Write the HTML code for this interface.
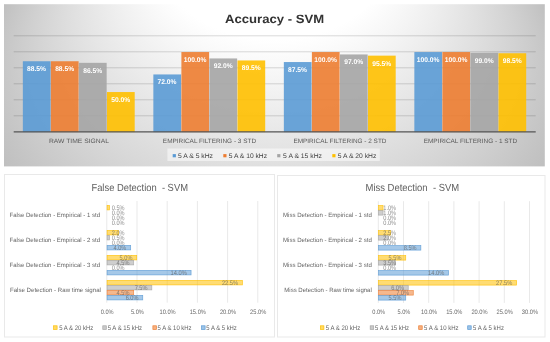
<!DOCTYPE html>
<html lang="en"><head><meta charset="utf-8"><title>SVM charts</title>
<style>html,body{margin:0;padding:0;background:#fff}svg{display:block}text{text-rendering:geometricPrecision;font-family:"Liberation Sans", Arial, sans-serif;}</style></head><body>
<svg width="550" height="342" viewBox="0 0 550 342">
<defs>
<radialGradient id="bg" gradientUnits="objectBoundingBox" cx="0" cy="0" r="1" fx="0" fy="-0.995" gradientTransform="translate(0.5,0.5) scale(0.5417,1.3)"><stop offset="0" stop-color="#ffffff"/><stop offset="0.39" stop-color="#ffffff"/><stop offset="1" stop-color="#bfbfbf"/></radialGradient>
</defs>
<rect x="0" y="0" width="550" height="342" fill="#ffffff"/>
<rect x="4" y="4.2" width="540.8" height="162.20000000000002" fill="url(#bg)"/>
<line x1="13.7" x2="535.7" y1="115.80" y2="115.80" stroke="#000000" stroke-opacity="0.15" stroke-width="1"/>
<line x1="13.7" x2="535.7" y1="99.80" y2="99.80" stroke="#000000" stroke-opacity="0.15" stroke-width="1"/>
<line x1="13.7" x2="535.7" y1="83.80" y2="83.80" stroke="#000000" stroke-opacity="0.15" stroke-width="1"/>
<line x1="13.7" x2="535.7" y1="67.80" y2="67.80" stroke="#000000" stroke-opacity="0.15" stroke-width="1"/>
<line x1="13.7" x2="535.7" y1="51.80" y2="51.80" stroke="#000000" stroke-opacity="0.15" stroke-width="1"/>
<line x1="13.7" x2="535.7" y1="35.80" y2="35.80" stroke="#000000" stroke-opacity="0.15" stroke-width="1"/>
<rect x="22.85" y="61.25" width="27.70" height="70.85" fill="#5b9bd5" fill-opacity="0.9"/>
<rect x="50.90" y="61.25" width="27.70" height="70.85" fill="#ed7d31" fill-opacity="0.9"/>
<rect x="78.95" y="62.85" width="27.70" height="69.25" fill="#a5a5a5" fill-opacity="0.9"/>
<rect x="107.00" y="92.05" width="27.70" height="40.05" fill="#ffc000" fill-opacity="0.9"/>
<text x="27.07" y="71.25" font-size="6.8" fill="#ffffff" font-weight="bold" textLength="19.00" lengthAdjust="spacingAndGlyphs" xml:space="preserve">88.5%</text>
<text x="55.13" y="71.25" font-size="6.8" fill="#ffffff" font-weight="bold" textLength="19.00" lengthAdjust="spacingAndGlyphs" xml:space="preserve">88.5%</text>
<text x="83.18" y="72.85" font-size="6.8" fill="#ffffff" font-weight="bold" textLength="19.00" lengthAdjust="spacingAndGlyphs" xml:space="preserve">86.5%</text>
<text x="111.23" y="102.05" font-size="6.8" fill="#ffffff" font-weight="bold" textLength="19.00" lengthAdjust="spacingAndGlyphs" xml:space="preserve">50.0%</text>
<text x="48.90" y="143.45" font-size="6.3" fill="#595959" textLength="60.10" lengthAdjust="spacingAndGlyphs" xml:space="preserve">RAW TIME SIGNAL</text>
<rect x="153.35" y="74.45" width="27.70" height="57.65" fill="#5b9bd5" fill-opacity="0.9"/>
<rect x="181.40" y="52.05" width="27.70" height="80.05" fill="#ed7d31" fill-opacity="0.9"/>
<rect x="209.45" y="58.45" width="27.70" height="73.65" fill="#a5a5a5" fill-opacity="0.9"/>
<rect x="237.50" y="60.45" width="27.70" height="71.65" fill="#ffc000" fill-opacity="0.9"/>
<text x="157.57" y="84.45" font-size="6.8" fill="#ffffff" font-weight="bold" textLength="19.00" lengthAdjust="spacingAndGlyphs" xml:space="preserve">72.0%</text>
<text x="183.78" y="62.05" font-size="6.8" fill="#ffffff" font-weight="bold" textLength="22.70" lengthAdjust="spacingAndGlyphs" xml:space="preserve">100.0%</text>
<text x="213.67" y="68.45" font-size="6.8" fill="#ffffff" font-weight="bold" textLength="19.00" lengthAdjust="spacingAndGlyphs" xml:space="preserve">92.0%</text>
<text x="241.72" y="70.45" font-size="6.8" fill="#ffffff" font-weight="bold" textLength="19.00" lengthAdjust="spacingAndGlyphs" xml:space="preserve">89.5%</text>
<text x="162.85" y="143.45" font-size="6.3" fill="#595959" textLength="93.20" lengthAdjust="spacingAndGlyphs" xml:space="preserve">EMPIRICAL FILTERING - 3 STD</text>
<rect x="283.85" y="62.05" width="27.70" height="70.05" fill="#5b9bd5" fill-opacity="0.9"/>
<rect x="311.90" y="52.05" width="27.70" height="80.05" fill="#ed7d31" fill-opacity="0.9"/>
<rect x="339.95" y="54.45" width="27.70" height="77.65" fill="#a5a5a5" fill-opacity="0.9"/>
<rect x="368.00" y="55.65" width="27.70" height="76.45" fill="#ffc000" fill-opacity="0.9"/>
<text x="288.07" y="72.05" font-size="6.8" fill="#ffffff" font-weight="bold" textLength="19.00" lengthAdjust="spacingAndGlyphs" xml:space="preserve">87.5%</text>
<text x="314.27" y="62.05" font-size="6.8" fill="#ffffff" font-weight="bold" textLength="22.70" lengthAdjust="spacingAndGlyphs" xml:space="preserve">100.0%</text>
<text x="344.17" y="64.45" font-size="6.8" fill="#ffffff" font-weight="bold" textLength="19.00" lengthAdjust="spacingAndGlyphs" xml:space="preserve">97.0%</text>
<text x="372.22" y="65.65" font-size="6.8" fill="#ffffff" font-weight="bold" textLength="19.00" lengthAdjust="spacingAndGlyphs" xml:space="preserve">95.5%</text>
<text x="293.45" y="143.45" font-size="6.3" fill="#595959" textLength="93.00" lengthAdjust="spacingAndGlyphs" xml:space="preserve">EMPIRICAL FILTERING - 2 STD</text>
<rect x="414.35" y="52.05" width="27.70" height="80.05" fill="#5b9bd5" fill-opacity="0.9"/>
<rect x="442.40" y="52.05" width="27.70" height="80.05" fill="#ed7d31" fill-opacity="0.9"/>
<rect x="470.45" y="52.85" width="27.70" height="79.25" fill="#a5a5a5" fill-opacity="0.9"/>
<rect x="498.50" y="53.25" width="27.70" height="78.85" fill="#ffc000" fill-opacity="0.9"/>
<text x="416.72" y="62.05" font-size="6.8" fill="#ffffff" font-weight="bold" textLength="22.70" lengthAdjust="spacingAndGlyphs" xml:space="preserve">100.0%</text>
<text x="444.77" y="62.05" font-size="6.8" fill="#ffffff" font-weight="bold" textLength="22.70" lengthAdjust="spacingAndGlyphs" xml:space="preserve">100.0%</text>
<text x="474.67" y="62.85" font-size="6.8" fill="#ffffff" font-weight="bold" textLength="19.00" lengthAdjust="spacingAndGlyphs" xml:space="preserve">99.0%</text>
<text x="502.72" y="63.25" font-size="6.8" fill="#ffffff" font-weight="bold" textLength="19.00" lengthAdjust="spacingAndGlyphs" xml:space="preserve">98.5%</text>
<text x="423.70" y="143.45" font-size="6.3" fill="#595959" textLength="93.50" lengthAdjust="spacingAndGlyphs" xml:space="preserve">EMPIRICAL FILTERING - 1 STD</text>
<line x1="13.7" x2="535.7" y1="131.80" y2="131.80" stroke="#555555" stroke-width="1.3"/>
<text x="225.10" y="23.30" font-size="12" fill="#333333" font-weight="bold" textLength="99.00" lengthAdjust="spacingAndGlyphs" xml:space="preserve">Accuracy - SVM</text>
<rect x="167.4" y="148.5" width="212.4" height="12.5" fill="#ffffff" fill-opacity="0.5"/>
<rect x="172.7" y="154.1" width="3.2" height="3.2" fill="#5b9bd5"/>
<text x="177.90" y="158.00" font-size="6.7" fill="#404040" textLength="35.10" lengthAdjust="spacingAndGlyphs" xml:space="preserve">5 A &amp; 5 kHz</text>
<rect x="223.3" y="154.1" width="3.2" height="3.2" fill="#ed7d31"/>
<text x="228.70" y="158.00" font-size="6.7" fill="#404040" textLength="38.30" lengthAdjust="spacingAndGlyphs" xml:space="preserve">5 A &amp; 10 kHz</text>
<rect x="277.2" y="154.1" width="3.2" height="3.2" fill="#a5a5a5"/>
<text x="283.10" y="158.00" font-size="6.7" fill="#404040" textLength="38.90" lengthAdjust="spacingAndGlyphs" xml:space="preserve">5 A &amp; 15 kHz</text>
<rect x="332.3" y="154.1" width="3.2" height="3.2" fill="#ffc000"/>
<text x="337.70" y="158.00" font-size="6.7" fill="#404040" textLength="38.60" lengthAdjust="spacingAndGlyphs" xml:space="preserve">5 A &amp; 20 kHz</text>
<rect x="4.5" y="174.5" width="270.0" height="162.5" fill="#ffffff" stroke="#e9e9e9" stroke-width="1"/>
<text x="91.40" y="190.60" font-size="10.3" fill="#606060" textLength="96.60" lengthAdjust="spacingAndGlyphs" xml:space="preserve">False Detection  - SVM</text>
<line x1="106.80" x2="106.80" y1="201.00" y2="302.70" stroke="#e9e9e9" stroke-width="1"/>
<text x="100.75" y="313.80" font-size="6.4" fill="#6a6a6a" textLength="12.90" lengthAdjust="spacingAndGlyphs" xml:space="preserve">0.0%</text>
<line x1="137.00" x2="137.00" y1="201.00" y2="302.70" stroke="#e9e9e9" stroke-width="1"/>
<text x="130.95" y="313.80" font-size="6.4" fill="#6a6a6a" textLength="12.90" lengthAdjust="spacingAndGlyphs" xml:space="preserve">5.0%</text>
<line x1="167.20" x2="167.20" y1="201.00" y2="302.70" stroke="#e9e9e9" stroke-width="1"/>
<text x="159.50" y="313.80" font-size="6.4" fill="#6a6a6a" textLength="16.20" lengthAdjust="spacingAndGlyphs" xml:space="preserve">10.0%</text>
<line x1="197.40" x2="197.40" y1="201.00" y2="302.70" stroke="#e9e9e9" stroke-width="1"/>
<text x="189.70" y="313.80" font-size="6.4" fill="#6a6a6a" textLength="16.20" lengthAdjust="spacingAndGlyphs" xml:space="preserve">15.0%</text>
<line x1="227.60" x2="227.60" y1="201.00" y2="302.70" stroke="#e9e9e9" stroke-width="1"/>
<text x="219.90" y="313.80" font-size="6.4" fill="#6a6a6a" textLength="16.20" lengthAdjust="spacingAndGlyphs" xml:space="preserve">20.0%</text>
<line x1="257.80" x2="257.80" y1="201.00" y2="302.70" stroke="#e9e9e9" stroke-width="1"/>
<text x="250.10" y="313.80" font-size="6.4" fill="#6a6a6a" textLength="16.20" lengthAdjust="spacingAndGlyphs" xml:space="preserve">25.0%</text>
<text x="9.60" y="217.20" font-size="6.1" fill="#666666" textLength="90.40" lengthAdjust="spacingAndGlyphs" xml:space="preserve">False Detection - Empirical - 1 std</text>
<rect x="107.10" y="205.35" width="2.42" height="4.55" fill="#ffc000" fill-opacity="0.55" stroke="#ffc000" stroke-opacity="0.85" stroke-width="0.7"/>
<text x="111.80" y="210.00" font-size="6.5" fill="#595959" fill-opacity="0.7" textLength="12.80" lengthAdjust="spacingAndGlyphs" xml:space="preserve">0.5%</text>
<text x="111.80" y="215.00" font-size="6.5" fill="#595959" fill-opacity="0.7" textLength="12.80" lengthAdjust="spacingAndGlyphs" xml:space="preserve">0.0%</text>
<text x="111.80" y="220.00" font-size="6.5" fill="#595959" fill-opacity="0.7" textLength="12.80" lengthAdjust="spacingAndGlyphs" xml:space="preserve">0.0%</text>
<text x="111.80" y="225.00" font-size="6.5" fill="#595959" fill-opacity="0.7" textLength="12.80" lengthAdjust="spacingAndGlyphs" xml:space="preserve">0.0%</text>
<text x="9.60" y="242.20" font-size="6.1" fill="#666666" textLength="90.40" lengthAdjust="spacingAndGlyphs" xml:space="preserve">False Detection - Empirical - 2 std</text>
<rect x="107.10" y="230.35" width="11.48" height="4.55" fill="#ffc000" fill-opacity="0.55" stroke="#ffc000" stroke-opacity="0.85" stroke-width="0.7"/>
<rect x="107.10" y="235.35" width="2.42" height="4.55" fill="#a5a5a5" fill-opacity="0.55" stroke="#a5a5a5" stroke-opacity="0.85" stroke-width="0.7"/>
<rect x="107.10" y="245.35" width="23.56" height="4.55" fill="#5b9bd5" fill-opacity="0.55" stroke="#5b9bd5" stroke-opacity="0.85" stroke-width="0.7"/>
<text x="111.80" y="235.00" font-size="6.5" fill="#595959" fill-opacity="0.7" textLength="12.80" lengthAdjust="spacingAndGlyphs" xml:space="preserve">2.0%</text>
<text x="111.80" y="240.00" font-size="6.5" fill="#595959" fill-opacity="0.7" textLength="12.80" lengthAdjust="spacingAndGlyphs" xml:space="preserve">0.5%</text>
<text x="111.80" y="245.00" font-size="6.5" fill="#595959" fill-opacity="0.7" textLength="12.80" lengthAdjust="spacingAndGlyphs" xml:space="preserve">0.0%</text>
<text x="113.56" y="250.00" font-size="6.5" fill="#595959" fill-opacity="0.7" textLength="12.80" lengthAdjust="spacingAndGlyphs" xml:space="preserve">4.0%</text>
<text x="9.60" y="267.20" font-size="6.1" fill="#666666" textLength="90.40" lengthAdjust="spacingAndGlyphs" xml:space="preserve">False Detection - Empirical - 3 std</text>
<rect x="107.10" y="255.35" width="29.60" height="4.55" fill="#ffc000" fill-opacity="0.55" stroke="#ffc000" stroke-opacity="0.85" stroke-width="0.7"/>
<rect x="107.10" y="260.35" width="26.58" height="4.55" fill="#a5a5a5" fill-opacity="0.55" stroke="#a5a5a5" stroke-opacity="0.85" stroke-width="0.7"/>
<rect x="107.10" y="270.35" width="83.96" height="4.55" fill="#5b9bd5" fill-opacity="0.55" stroke="#5b9bd5" stroke-opacity="0.85" stroke-width="0.7"/>
<text x="119.60" y="260.00" font-size="6.5" fill="#595959" fill-opacity="0.7" textLength="12.80" lengthAdjust="spacingAndGlyphs" xml:space="preserve">5.0%</text>
<text x="116.58" y="265.00" font-size="6.5" fill="#595959" fill-opacity="0.7" textLength="12.80" lengthAdjust="spacingAndGlyphs" xml:space="preserve">4.5%</text>
<text x="111.80" y="270.00" font-size="6.5" fill="#595959" fill-opacity="0.7" textLength="12.80" lengthAdjust="spacingAndGlyphs" xml:space="preserve">0.0%</text>
<text x="170.56" y="275.00" font-size="6.5" fill="#595959" fill-opacity="0.7" textLength="16.20" lengthAdjust="spacingAndGlyphs" xml:space="preserve">14.0%</text>
<text x="10.00" y="292.20" font-size="6.1" fill="#666666" textLength="90.90" lengthAdjust="spacingAndGlyphs" xml:space="preserve">False Detection - Raw time signal</text>
<rect x="107.10" y="280.35" width="135.30" height="4.55" fill="#ffc000" fill-opacity="0.55" stroke="#ffc000" stroke-opacity="0.85" stroke-width="0.7"/>
<rect x="107.10" y="285.35" width="44.70" height="4.55" fill="#a5a5a5" fill-opacity="0.55" stroke="#a5a5a5" stroke-opacity="0.85" stroke-width="0.7"/>
<rect x="107.10" y="290.35" width="26.58" height="4.55" fill="#ed7d31" fill-opacity="0.55" stroke="#ed7d31" stroke-opacity="0.85" stroke-width="0.7"/>
<rect x="107.10" y="295.35" width="35.64" height="4.55" fill="#5b9bd5" fill-opacity="0.55" stroke="#5b9bd5" stroke-opacity="0.85" stroke-width="0.7"/>
<text x="221.90" y="285.00" font-size="6.5" fill="#595959" fill-opacity="0.7" textLength="16.20" lengthAdjust="spacingAndGlyphs" xml:space="preserve">22.5%</text>
<text x="134.70" y="290.00" font-size="6.5" fill="#595959" fill-opacity="0.7" textLength="12.80" lengthAdjust="spacingAndGlyphs" xml:space="preserve">7.5%</text>
<text x="116.58" y="295.00" font-size="6.5" fill="#595959" fill-opacity="0.7" textLength="12.80" lengthAdjust="spacingAndGlyphs" xml:space="preserve">4.5%</text>
<text x="125.64" y="300.00" font-size="6.5" fill="#595959" fill-opacity="0.7" textLength="12.80" lengthAdjust="spacingAndGlyphs" xml:space="preserve">6.0%</text>
<rect x="53.6" y="325.8" width="3.5" height="3.6" fill="#ffc000" fill-opacity="0.6" stroke="#ffc000" stroke-width="0.7"/>
<text x="59.20" y="329.60" font-size="6.6" fill="#646464" textLength="34.10" lengthAdjust="spacingAndGlyphs" xml:space="preserve">5 A &amp; 20 kHz</text>
<rect x="102.80000000000001" y="325.8" width="3.5" height="3.6" fill="#a5a5a5" fill-opacity="0.6" stroke="#a5a5a5" stroke-width="0.7"/>
<text x="107.70" y="329.60" font-size="6.6" fill="#646464" textLength="34.30" lengthAdjust="spacingAndGlyphs" xml:space="preserve">5 A &amp; 15 kHz</text>
<rect x="152.9" y="325.8" width="3.5" height="3.6" fill="#ed7d31" fill-opacity="0.6" stroke="#ed7d31" stroke-width="0.7"/>
<text x="157.60" y="329.60" font-size="6.6" fill="#646464" textLength="34.00" lengthAdjust="spacingAndGlyphs" xml:space="preserve">5 A &amp; 10 kHz</text>
<rect x="201.6" y="325.8" width="3.5" height="3.6" fill="#5b9bd5" fill-opacity="0.6" stroke="#5b9bd5" stroke-width="0.7"/>
<text x="206.30" y="329.60" font-size="6.6" fill="#646464" textLength="30.50" lengthAdjust="spacingAndGlyphs" xml:space="preserve">5 A &amp; 5 kHz</text>
<rect x="277.5" y="175.5" width="267.5" height="161.5" fill="#ffffff" stroke="#e9e9e9" stroke-width="1"/>
<text x="365.50" y="191.20" font-size="10.3" fill="#606060" textLength="93.70" lengthAdjust="spacingAndGlyphs" xml:space="preserve">Miss Detection  - SVM</text>
<line x1="378.30" x2="378.30" y1="201.20" y2="302.90" stroke="#e9e9e9" stroke-width="1"/>
<text x="372.25" y="314.40" font-size="6.4" fill="#6a6a6a" textLength="12.90" lengthAdjust="spacingAndGlyphs" xml:space="preserve">0.0%</text>
<line x1="403.50" x2="403.50" y1="201.20" y2="302.90" stroke="#e9e9e9" stroke-width="1"/>
<text x="397.45" y="314.40" font-size="6.4" fill="#6a6a6a" textLength="12.90" lengthAdjust="spacingAndGlyphs" xml:space="preserve">5.0%</text>
<line x1="428.70" x2="428.70" y1="201.20" y2="302.90" stroke="#e9e9e9" stroke-width="1"/>
<text x="421.00" y="314.40" font-size="6.4" fill="#6a6a6a" textLength="16.20" lengthAdjust="spacingAndGlyphs" xml:space="preserve">10.0%</text>
<line x1="453.90" x2="453.90" y1="201.20" y2="302.90" stroke="#e9e9e9" stroke-width="1"/>
<text x="446.20" y="314.40" font-size="6.4" fill="#6a6a6a" textLength="16.20" lengthAdjust="spacingAndGlyphs" xml:space="preserve">15.0%</text>
<line x1="479.10" x2="479.10" y1="201.20" y2="302.90" stroke="#e9e9e9" stroke-width="1"/>
<text x="471.40" y="314.40" font-size="6.4" fill="#6a6a6a" textLength="16.20" lengthAdjust="spacingAndGlyphs" xml:space="preserve">20.0%</text>
<line x1="504.30" x2="504.30" y1="201.20" y2="302.90" stroke="#e9e9e9" stroke-width="1"/>
<text x="496.60" y="314.40" font-size="6.4" fill="#6a6a6a" textLength="16.20" lengthAdjust="spacingAndGlyphs" xml:space="preserve">25.0%</text>
<line x1="529.50" x2="529.50" y1="201.20" y2="302.90" stroke="#e9e9e9" stroke-width="1"/>
<text x="521.80" y="314.40" font-size="6.4" fill="#6a6a6a" textLength="16.20" lengthAdjust="spacingAndGlyphs" xml:space="preserve">30.0%</text>
<text x="283.00" y="217.40" font-size="6.1" fill="#666666" textLength="88.80" lengthAdjust="spacingAndGlyphs" xml:space="preserve">Miss Detection - Empirical - 1 std</text>
<rect x="378.60" y="205.55" width="4.44" height="4.55" fill="#ffc000" fill-opacity="0.55" stroke="#ffc000" stroke-opacity="0.85" stroke-width="0.7"/>
<rect x="378.60" y="210.55" width="4.44" height="4.55" fill="#a5a5a5" fill-opacity="0.55" stroke="#a5a5a5" stroke-opacity="0.85" stroke-width="0.7"/>
<text x="383.30" y="210.20" font-size="6.5" fill="#595959" fill-opacity="0.7" textLength="12.80" lengthAdjust="spacingAndGlyphs" xml:space="preserve">1.0%</text>
<text x="383.30" y="215.20" font-size="6.5" fill="#595959" fill-opacity="0.7" textLength="12.80" lengthAdjust="spacingAndGlyphs" xml:space="preserve">1.0%</text>
<text x="383.30" y="220.20" font-size="6.5" fill="#595959" fill-opacity="0.7" textLength="12.80" lengthAdjust="spacingAndGlyphs" xml:space="preserve">0.0%</text>
<text x="383.30" y="225.20" font-size="6.5" fill="#595959" fill-opacity="0.7" textLength="12.80" lengthAdjust="spacingAndGlyphs" xml:space="preserve">0.0%</text>
<text x="283.00" y="242.40" font-size="6.1" fill="#666666" textLength="88.80" lengthAdjust="spacingAndGlyphs" xml:space="preserve">Miss Detection - Empirical - 2 std</text>
<rect x="378.60" y="230.55" width="12.00" height="4.55" fill="#ffc000" fill-opacity="0.55" stroke="#ffc000" stroke-opacity="0.85" stroke-width="0.7"/>
<rect x="378.60" y="235.55" width="9.48" height="4.55" fill="#a5a5a5" fill-opacity="0.55" stroke="#a5a5a5" stroke-opacity="0.85" stroke-width="0.7"/>
<rect x="378.60" y="245.55" width="42.24" height="4.55" fill="#5b9bd5" fill-opacity="0.55" stroke="#5b9bd5" stroke-opacity="0.85" stroke-width="0.7"/>
<text x="383.30" y="235.20" font-size="6.5" fill="#595959" fill-opacity="0.7" textLength="12.80" lengthAdjust="spacingAndGlyphs" xml:space="preserve">2.5%</text>
<text x="383.30" y="240.20" font-size="6.5" fill="#595959" fill-opacity="0.7" textLength="12.80" lengthAdjust="spacingAndGlyphs" xml:space="preserve">2.0%</text>
<text x="383.30" y="245.20" font-size="6.5" fill="#595959" fill-opacity="0.7" textLength="12.80" lengthAdjust="spacingAndGlyphs" xml:space="preserve">0.0%</text>
<text x="403.74" y="250.20" font-size="6.5" fill="#595959" fill-opacity="0.7" textLength="12.80" lengthAdjust="spacingAndGlyphs" xml:space="preserve">8.5%</text>
<text x="283.00" y="267.40" font-size="6.1" fill="#666666" textLength="88.80" lengthAdjust="spacingAndGlyphs" xml:space="preserve">Miss Detection - Empirical - 3 std</text>
<rect x="378.60" y="255.55" width="27.12" height="4.55" fill="#ffc000" fill-opacity="0.55" stroke="#ffc000" stroke-opacity="0.85" stroke-width="0.7"/>
<rect x="378.60" y="260.55" width="17.04" height="4.55" fill="#a5a5a5" fill-opacity="0.55" stroke="#a5a5a5" stroke-opacity="0.85" stroke-width="0.7"/>
<rect x="378.60" y="270.55" width="69.96" height="4.55" fill="#5b9bd5" fill-opacity="0.55" stroke="#5b9bd5" stroke-opacity="0.85" stroke-width="0.7"/>
<text x="388.62" y="260.20" font-size="6.5" fill="#595959" fill-opacity="0.7" textLength="12.80" lengthAdjust="spacingAndGlyphs" xml:space="preserve">5.5%</text>
<text x="383.30" y="265.20" font-size="6.5" fill="#595959" fill-opacity="0.7" textLength="12.80" lengthAdjust="spacingAndGlyphs" xml:space="preserve">3.5%</text>
<text x="383.30" y="270.20" font-size="6.5" fill="#595959" fill-opacity="0.7" textLength="12.80" lengthAdjust="spacingAndGlyphs" xml:space="preserve">0.0%</text>
<text x="428.06" y="275.20" font-size="6.5" fill="#595959" fill-opacity="0.7" textLength="16.20" lengthAdjust="spacingAndGlyphs" xml:space="preserve">14.0%</text>
<text x="284.30" y="292.40" font-size="6.1" fill="#666666" textLength="87.50" lengthAdjust="spacingAndGlyphs" xml:space="preserve">Miss Detection - Raw time signal</text>
<rect x="378.60" y="280.55" width="138.00" height="4.55" fill="#ffc000" fill-opacity="0.55" stroke="#ffc000" stroke-opacity="0.85" stroke-width="0.7"/>
<rect x="378.60" y="285.55" width="29.64" height="4.55" fill="#a5a5a5" fill-opacity="0.55" stroke="#a5a5a5" stroke-opacity="0.85" stroke-width="0.7"/>
<rect x="378.60" y="290.55" width="34.68" height="4.55" fill="#ed7d31" fill-opacity="0.55" stroke="#ed7d31" stroke-opacity="0.85" stroke-width="0.7"/>
<rect x="378.60" y="295.55" width="27.12" height="4.55" fill="#5b9bd5" fill-opacity="0.55" stroke="#5b9bd5" stroke-opacity="0.85" stroke-width="0.7"/>
<text x="496.10" y="285.20" font-size="6.5" fill="#595959" fill-opacity="0.7" textLength="16.20" lengthAdjust="spacingAndGlyphs" xml:space="preserve">27.5%</text>
<text x="391.14" y="290.20" font-size="6.5" fill="#595959" fill-opacity="0.7" textLength="12.80" lengthAdjust="spacingAndGlyphs" xml:space="preserve">6.0%</text>
<text x="396.18" y="295.20" font-size="6.5" fill="#595959" fill-opacity="0.7" textLength="12.80" lengthAdjust="spacingAndGlyphs" xml:space="preserve">7.0%</text>
<text x="388.62" y="300.20" font-size="6.5" fill="#595959" fill-opacity="0.7" textLength="12.80" lengthAdjust="spacingAndGlyphs" xml:space="preserve">5.5%</text>
<rect x="320.4" y="325.8" width="3.5" height="3.6" fill="#ffc000" fill-opacity="0.6" stroke="#ffc000" stroke-width="0.7"/>
<text x="325.70" y="329.60" font-size="6.6" fill="#646464" textLength="34.50" lengthAdjust="spacingAndGlyphs" xml:space="preserve">5 A &amp; 20 kHz</text>
<rect x="370.2" y="325.8" width="3.5" height="3.6" fill="#a5a5a5" fill-opacity="0.6" stroke="#a5a5a5" stroke-width="0.7"/>
<text x="375.00" y="329.60" font-size="6.6" fill="#646464" textLength="34.10" lengthAdjust="spacingAndGlyphs" xml:space="preserve">5 A &amp; 15 kHz</text>
<rect x="418.7" y="325.8" width="3.5" height="3.6" fill="#ed7d31" fill-opacity="0.6" stroke="#ed7d31" stroke-width="0.7"/>
<text x="424.10" y="329.60" font-size="6.6" fill="#646464" textLength="34.50" lengthAdjust="spacingAndGlyphs" xml:space="preserve">5 A &amp; 10 kHz</text>
<rect x="467.7" y="325.8" width="3.5" height="3.6" fill="#5b9bd5" fill-opacity="0.6" stroke="#5b9bd5" stroke-width="0.7"/>
<text x="473.00" y="329.60" font-size="6.6" fill="#646464" textLength="30.90" lengthAdjust="spacingAndGlyphs" xml:space="preserve">5 A &amp; 5 kHz</text>
</svg></body></html>
